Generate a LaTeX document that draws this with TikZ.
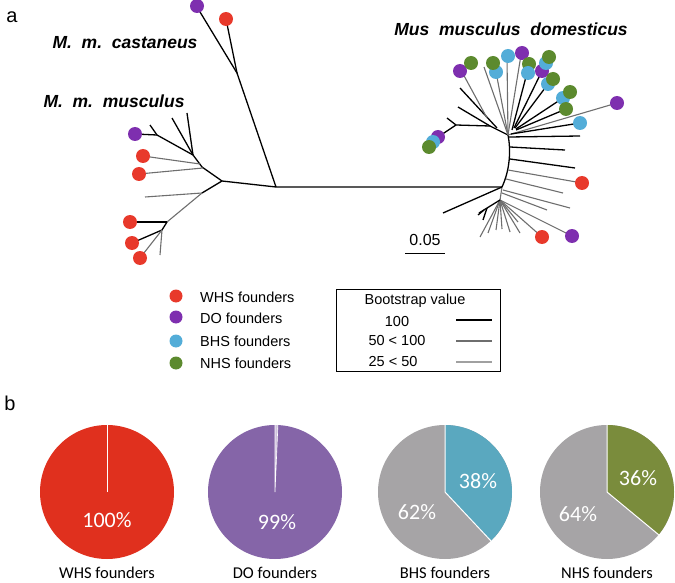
\documentclass[tikz,border=0pt]{standalone}
\usepackage{fontspec}
\setmainfont{Liberation Sans}
\newfontfamily\calibri{Carlito}
\definecolor{dred}{HTML}{E8392B}
\definecolor{dpur}{HTML}{7E2FAF}
\definecolor{dblu}{HTML}{53ADD8}
\definecolor{dgrn}{HTML}{5C8A2E}
\definecolor{pred}{HTML}{E0301E}
\definecolor{ppur}{HTML}{8565A8}
\definecolor{pblu}{HTML}{5AA8BF}
\definecolor{pgrn}{HTML}{7A8C3C}
\definecolor{pgry}{HTML}{A6A4A6}
\definecolor{gmid}{HTML}{6E6E6E}
\definecolor{glt}{HTML}{A0A0A0}
\tikzset{
  bk/.style={line width=1.3pt, black},
  gm/.style={line width=1.1pt, gmid},
  gl/.style={line width=1.1pt, glt},
  rd/.style={fill=dred},
  pu/.style={fill=dpur},
  bl/.style={fill=dblu},
  gr/.style={fill=dgrn},
  ttl/.style={font=\bfseries\itshape\fontsize{17.5}{19}\selectfont, inner sep=0pt},
  leg/.style={font=\fontsize{14.5}{16}\selectfont, inner sep=0pt, anchor=west},
  pct/.style={font=\calibri\fontsize{22}{24}\selectfont, text=white, inner sep=0pt},
  plab/.style={font=\calibri\fontsize{16.5}{18}\selectfont, inner sep=0pt},
}
\begin{document}
\begin{tikzpicture}[x=1pt,y=-1pt]
\useasboundingbox (0,0) rectangle (675,583);
% panel letters
\node[font=\fontsize{20}{22}\selectfont, inner sep=0pt] (la) at (12,17) {a};
\node[font=\fontsize{20}{22}\selectfont, inner sep=0pt] (lb) at (10,403) {b};
% titles
\node[ttl] (tcas) at (125,43) {M.\ \ m.\ \ castaneus};
\node[ttl] (tmus) at (114,101) {M.\ \ m.\ \ musculus};
\node[ttl] (tdom) at (511,29) {Mus\ \ musculus\ \ domesticus};
% ---- tree: trunk
\draw[bk] (222,181) -- (276,187) -- (502,187);
% castaneus
\draw[bk] (276,187) -- (237,73) -- (197,7);
\draw[bk] (237,73) -- (226,19);
\fill[pu] (197,6) circle[radius=7pt];
\fill[rd] (226,19) circle[radius=7pt];
% musculus
\draw[bk] (222,181) -- (202,167) -- (193,155) -- (157,135) -- (150,125);
\draw[bk] (157,135) -- (135,134);
\draw[bk] (193,155) -- (172,118);
\draw[bk] (193,155) -- (187,113);
\draw[gm] (200,164) -- (143,156);
\draw[gm] (203,168) -- (139,174);
\draw[bk] (222,181) -- (202,193);
\draw[gm] (202,193) -- (145,197);
\draw[gm] (202,193) -- (167,222);
\draw[bk] (167,222) -- (130,222);
\draw[bk] (167,222) -- (162,230) -- (132,243);
\draw[gm] (162,230) -- (140,258);
\draw[gm] (162,230) -- (160,255);
\fill[pu] (135,134) circle[radius=7pt];
\fill[rd] (143,156) circle[radius=7pt];
\fill[rd] (139,174) circle[radius=7pt];
\fill[rd] (130,222) circle[radius=7pt];
\fill[rd] (132,243) circle[radius=7pt];
\fill[rd] (140,258) circle[radius=7pt];
% domesticus backbone
\draw[bk] (508,135) .. controls (511,150) and (510,170) .. (502,187);
\draw[gm] (502,187) -- (500,200);
\draw[bk] (502,187) -- (443,213);
% right branches
\draw[bk] (509,137) -- (580,136);
\draw[bk] (510,147) -- (565,150);
\draw[bk] (510,159) -- (575,168);
\draw[gm] (508,170) -- (582,183);
\draw[gm] (506,179) -- (563,193);
\draw[gm] (503,190) -- (570,208);
\draw[gm] (502,193) -- (547,210);
% bottom fan
\draw[gm] (500,200) -- (542,237);
\draw[gm] (500,200) -- (572,236);
\draw[gm] (500,200) -- (520,233);
\draw[gm] (500,200) -- (518,222);
\draw[gm] (500,200) -- (510,232);
\draw[gm] (500,200) -- (502,229);
\draw[gm] (500,200) -- (496,230);
\draw[gm] (500,200) -- (488,233);
\draw[gm] (500,200) -- (480,237);
\draw[bk] (500,200) -- (479,213);
\draw[bk] (487,208) -- (483,220);
\draw[bk] (484,210) -- (478,215);
\fill[rd] (582,183) circle[radius=7pt];
\fill[rd] (542,237) circle[radius=7pt];
\fill[pu] (572,236) circle[radius=7pt];
% top fan: left branch
\draw[bk] (508,135) -- (490,126) -- (456,125) -- (447,118);
\draw[bk] (456,125) -- (438,137);
\draw[bk] (490,126) -- (458,107);
\draw[bk] (497,128) -- (460,88);
\draw[gm] (487,118) -- (462,72);
\draw[gm] (508,135) -- (484,67);
\draw[gm] (508,135) -- (496,72);
\draw[gm] (508,135) -- (507,58);
\draw[gm] (508,135) -- (521,55);
\draw[bk] (512,130) -- (527,73);
\draw[bk] (514,128) -- (542,71);
\draw[bk] (515,128) -- (548,84);
\draw[bk] (516,129) -- (563,98);
\draw[bk] (516,130) -- (566,109);
\draw[gm] (508,135) -- (617,103);
\draw[bk] (511,134) -- (580,123);
% top fan dots
\fill[pu] (438,137) circle[radius=7pt];
\fill[bl] (433,142) circle[radius=7pt];
\fill[gr] (429,147) circle[radius=7pt];
\fill[pu] (460,71) circle[radius=7pt];
\fill[gr] (471,63) circle[radius=7pt];
\fill[bl] (496,72) circle[radius=7pt];
\fill[gr] (493,63) circle[radius=7pt];
\fill[bl] (508,56) circle[radius=7pt];
\fill[pu] (522,53) circle[radius=7pt];
\fill[gr] (529,64) circle[radius=7pt];
\fill[bl] (528,73) circle[radius=7pt];
\fill[pu] (542,71) circle[radius=7pt];
\fill[bl] (546,63) circle[radius=7pt];
\fill[gr] (549,57) circle[radius=7pt];
\fill[bl] (548,84) circle[radius=7pt];
\fill[gr] (553,79) circle[radius=7pt];
\fill[bl] (563,98) circle[radius=7pt];
\fill[gr] (570,92) circle[radius=7pt];
\fill[gr] (566,109) circle[radius=7pt];
\fill[pu] (617,103) circle[radius=7pt];
\fill[bl] (580,123) circle[radius=7pt];
% scale bar
\node[font=\fontsize{16}{18}\selectfont, inner sep=0pt] (sc) at (425,240) {0.05};
\draw[line width=1pt] (405,253) -- (445,253);
% legend
\fill[rd] (176,296) circle[radius=6.5pt];
\fill[pu] (176,317) circle[radius=6.5pt];
\fill[bl] (176,341) circle[radius=6.5pt];
\fill[gr] (176,363) circle[radius=6.5pt];
\node[leg] (l1) at (200,297) {WHS founders};
\node[leg] (l2) at (200,318) {DO founders};
\node[leg] (l3) at (200,341) {BHS founders};
\node[leg] (l4) at (200,363) {NHS founders};
\draw[line width=0.9pt] (336,289) rectangle (500,371);
\node[leg, anchor=center] (bt) at (415,301) {Bootstrap value};
\node[leg, anchor=center] (b1) at (397,322) {100};
\node[leg, anchor=center] (b2) at (397,341) {50 < 100};
\node[leg, anchor=center] (b3) at (393,362) {25 < 50};
\draw[bk] (456,320) -- (492,320);
\draw[gm] (456,341) -- (492,341);
\draw[gl] (456,362) -- (492,362);
% pies
\fill[pred] (107,492) circle[radius=67pt];
\draw[white, line width=0.8pt] (107,492) -- ++(0pt,67pt);
\fill[ppur] (275,492) circle[radius=67pt];
\fill[ppur!40!white] (275,492) -- ++(90:67pt) arc[start angle=90, end angle=87.5, radius=67pt] -- cycle;
\draw[white, line width=0.6pt] (275,492) -- ++(90:67pt) (275,492) -- ++(87.5:67pt);
\fill[pgry] (445,492) circle[radius=67pt];
\fill[pblu] (445,492) -- ++(90:67pt) arc[start angle=90, end angle=-46.8, radius=67pt] -- cycle;
\draw[white, line width=1pt] (445,492) -- ++(90:67pt) (445,492) -- ++(-46.8:67pt);
\fill[pgry] (607,492) circle[radius=67pt];
\fill[pgrn] (607,492) -- ++(90:67pt) arc[start angle=90, end angle=-39.6, radius=67pt] -- cycle;
\draw[white, line width=1pt] (607,492) -- ++(90:67pt) (607,492) -- ++(-39.6:67pt);
\node[pct] (p1) at (107,520) {100\%};
\node[pct] (p2) at (277,522) {99\%};
\node[pct] (p3) at (478,481) {38\%};
\node[pct] (p4) at (417,512) {62\%};
\node[pct] (p5) at (638,478) {36\%};
\node[pct] (p6) at (578,514) {64\%};
\node[plab] (n1) at (107,573) {WHS founders};
\node[plab] (n2) at (275,573) {DO founders};
\node[plab] (n3) at (445,573) {BHS founders};
\node[plab] (n4) at (607,573) {NHS founders};
\end{tikzpicture}
\end{document}
